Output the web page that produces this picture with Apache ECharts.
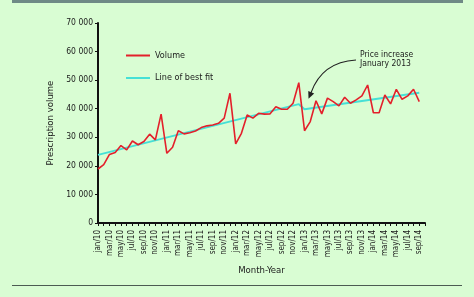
<!DOCTYPE html>
<html>
<head>
<meta charset="utf-8">
<script src="https://cdn.jsdelivr.net/npm/echarts@6/dist/echarts.min.js"></script>
<style>
  html, body { margin: 0; padding: 0; background: #d9fdd3; }
  #EChart1 { width: 474px; height: 297px; }
</style>
</head>
<body>
<div id="EChart1"></div>
<script>
// month categories (oct/14 only pads the end of the axis)
const months = [
  'jan/10', 'feb/10', 'mar/10', 'apr/10', 'may/10', 'jun/10', 'jul/10', 'aug/10', 'sep/10', 'oct/10', 'nov/10', 'dec/10',
  'jan/11', 'feb/11', 'mar/11', 'apr/11', 'may/11', 'jun/11', 'jul/11', 'aug/11', 'sep/11', 'oct/11', 'nov/11', 'dec/11',
  'jan/12', 'feb/12', 'mar/12', 'apr/12', 'may/12', 'jun/12', 'jul/12', 'aug/12', 'sep/12', 'oct/12', 'nov/12', 'dec/12',
  'jan/13', 'feb/13', 'mar/13', 'apr/13', 'may/13', 'jun/13', 'jul/13', 'aug/13', 'sep/13', 'oct/13', 'nov/13', 'dec/13',
  'jan/14', 'feb/14', 'mar/14', 'apr/14', 'may/14', 'jun/14', 'jul/14', 'aug/14', 'sep/14', 'oct/14'
]

const volume = [
  18900, 20400, 24000, 24700, 27100, 25600, 28700, 27400, 28500, 31100, 29100, 38100,
  24400, 26500, 32300, 31200, 31600, 32200, 33400, 34000, 34300, 34900, 36700, 45400,
  27700, 31400, 37800, 36700, 38400, 38100, 38200, 40700, 39800, 39800, 41900, 49100,
  32300, 35500, 42800, 38200, 43700, 42500, 41000, 44000, 41900, 43100, 44500, 48300,
  38600, 38600, 44800, 41700, 46800, 43300, 44500, 46800, 42500
]

// segmented line of best fit (break at the price increase)
const fitMonths = ['jan/10', 'dec/12', 'jan/13', 'sep/14']
const fitValues = [23850, 41600, 39800, 45600]

const yTicks = [0, 10000, 20000, 30000, 40000, 50000, 60000, 70000]

const font = '"Liberation Sans Narrow", "DejaVu Sans Condensed", sans-serif'
const txt = '#1b1b1b'

const frame = [
  { type: 'rect', shape: { x: 12, y: 0, width: 451, height: 3 }, style: { fill: '#6f8a86' } },
  { type: 'line', shape: { x1: 12, y1: 285.5, x2: 462, y2: 285.5 }, style: { stroke: '#4c5c52', lineWidth: 1 } },
  {
    type: 'text', left: 360, top: 50,
    style: { text: 'Price increase\nJanuary 2013', fontFamily: font, fontSize: 8.5, lineHeight: 9.5, fill: txt }
  }
]

let EChart = echarts.init(document.getElementById('EChart1'))
let option = {
  backgroundColor: '#d9fdd3',
  animation: false,
  textStyle: { fontFamily: font, color: txt },
  grid: { left: 98, right: 49, top: 23, bottom: 74 },
  legend: {
    orient: 'vertical',
    left: 126,
    top: 51,
    padding: 0,
    itemGap: 13.5,
    itemWidth: 24,
    itemHeight: 2,
    icon: 'rect',
    textStyle: { fontFamily: font, fontSize: 9, color: txt },
    data: ['Volume', 'Line of best fit']
  },
  xAxis: {
    type: 'category',
    data: months,
    boundaryGap: false,
    name: 'Month-Year',
    nameLocation: 'middle',
    nameGap: 43,
    nameTextStyle: { fontFamily: font, fontSize: 9.5, color: txt },
    axisLine: { lineStyle: { color: '#111', width: 2 } },
    axisTick: { interval: 0, length: 3, lineStyle: { color: '#111' } },
    axisLabel: { interval: 1, rotate: 90, margin: 7, fontSize: 8, fontFamily: font, color: txt },
    splitLine: { show: false }
  },
  yAxis: {
    type: 'value',
    min: yTicks[0],
    max: yTicks[yTicks.length - 1],
    interval: 10000,
    name: 'Prescription volume',
    nameLocation: 'middle',
    nameGap: 42,
    nameTextStyle: { fontFamily: font, fontSize: 9.5, color: txt },
    axisLine: { show: true, lineStyle: { color: '#111', width: 2 } },
    axisTick: { show: true, length: 3, lineStyle: { color: '#111' } },
    axisLabel: {
      margin: 5, fontSize: 8.5, fontFamily: font, color: txt,
      formatter: v => v === 0 ? '0' : (v / 1000) + ' 000'
    },
    splitLine: { show: false }
  },
  series: [
    {
      name: 'Volume',
      type: 'line',
      data: volume,
      symbol: 'none',
      color: '#e3202b',
      lineStyle: { color: '#e3202b', width: 1.6 },
      z: 3
    },
    {
      name: 'Line of best fit',
      type: 'line',
      data: fitMonths.map((m, i) => [m, fitValues[i]]),
      symbol: 'none',
      color: '#45e0d6',
      lineStyle: { color: '#45e0d6', width: 2 },
      z: 2
    }
  ],
  graphic: frame
}
EChart.setOption(option)

// curved arrow pointing at the January 2013 drop
function drawArrow(){
  let tip = EChart.convertToPixel({ seriesIndex: 0 }, ['jan/13', 43500])
  let tx = tip[0] + 4, ty = tip[1]
  let sx = 356, sy = 60
  let cx = 322, cy = 62
  let ex = tx + 2.5, ey = ty - 6
  let dx = tx - ex, dy = ty - ey
  let len = Math.sqrt(dx * dx + dy * dy)
  let ux = dx / len, uy = dy / len
  let bx = tx - ux * 7, by = ty - uy * 7
  let px = -uy * 3.2, py = ux * 3.2
  EChart.setOption({
    graphic: frame.concat([
      {
        type: 'bezierCurve',
        shape: { x1: sx, y1: sy, cpx1: cx, cpy1: cy, x2: ex, y2: ey },
        style: { stroke: '#222', lineWidth: 1.1, fill: null }
      },
      {
        type: 'polygon',
        shape: { points: [[tx, ty], [bx + px, by + py], [bx - px, by - py]] },
        style: { fill: '#222' }
      }
    ])
  }, { replaceMerge: ['graphic'] })
}
drawArrow()
</script>
</body>
</html>
